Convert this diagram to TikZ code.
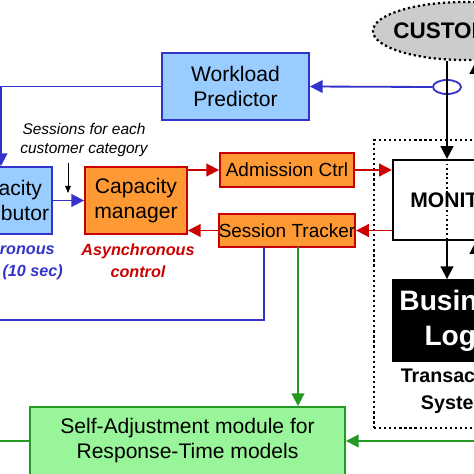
\documentclass[tikz,border=0pt]{standalone}
\usepackage{fontspec}
\setmainfont{Liberation Sans}
\usetikzlibrary{arrows.meta,shapes.geometric}

\definecolor{predfill}{HTML}{99CCFF}
\definecolor{predline}{HTML}{3333CC}
\definecolor{ctrlfill}{HTML}{FF9933}
\definecolor{ctrlline}{HTML}{CC0000}
\definecolor{adjfill}{HTML}{99F599}
\definecolor{adjline}{HTML}{229922}
\definecolor{custfill}{HTML}{CCCCCC}

\begin{document}
\begin{tikzpicture}[x=0.025cm,y=-0.025cm,>={Triangle[length=9pt,width=9pt]},line width=1.3pt,
  box/.style={draw,align=center,inner sep=0pt,font=\fontsize{15}{17.8}\selectfont},
  bluebox/.style={box,draw=predline,fill=predfill},
  orangebox/.style={box,draw=ctrlline,fill=ctrlfill},
  greenbox/.style={box,draw=adjline,fill=adjfill},
  note/.style={align=center,font=\fontsize{11}{14.2}\selectfont\itshape}]
  \useasboundingbox (0,0) rectangle (474,474);
  \clip (0,0) rectangle (474,474);

  % transaction system frame
  \node[draw,dotted,line width=1.6pt,minimum width=4.65cm,minimum height=7.2cm] (tx) at (467,284) {};
  \node[align=center,font=\fontsize{14}{19}\selectfont\bfseries] (txlbl) at (456,391) {Transaction\\System};

  \node[ellipse,draw,dotted,line width=1.6pt,fill=custfill,minimum width=4.6cm,minimum height=1.45cm] (cust) at (465,31) {};
  \node[font=\fontsize{16}{19}\selectfont\bfseries] (custlbl) at (465,31) {CUSTOMERS};
  \node[draw,fill=white,line width=1.6pt,minimum width=3.35cm,minimum height=2cm,
        font=\fontsize{15}{17}\selectfont\bfseries] (mon) at (460,200) {MONITOR};
  \node[draw,fill=black,text=white,align=center,minimum width=3.45cm,minimum height=2.025cm,
        font=\fontsize{20}{25}\selectfont\bfseries] (biz) at (462,320.5) {Business\\Logic};
  \node[ellipse,draw=predline,minimum width=0.7cm,minimum height=0.35cm,inner sep=0pt] (tap) at (447,87) {};
  \coordinate (ret) at (476,0);

  \node[bluebox,minimum width=3.675cm,minimum height=1.675cm] (pred) at (235.5,86.5) {Workload\\Predictor};
  \node[bluebox,minimum width=2.55cm,minimum height=1.675cm] (dist) at (1,200.5) {Capacity\\Distributor};
  \node[orangebox,minimum width=2.55cm,minimum height=1.675cm] (mgr) at (136,200.5) {Capacity\\manager};
  \node[orangebox,minimum width=3.35cm,minimum height=0.85cm,font=\fontsize{13.5}{16}\selectfont] (adm) at (287,170) {Admission Ctrl};
  \node[orangebox,minimum width=3.35cm,minimum height=0.825cm,font=\fontsize{13.5}{16}\selectfont] (trk) at (287,230.5) {Session Tracker};
  \node[greenbox,minimum width=7.875cm,minimum height=1.7cm] (adj) at (187.5,441) {Self-Adjustment module for\\Response-Time models};

  \node[note] (sess) at (84,140) {Sessions for each\\customer category};
  \coordinate (sesstip) at (68,193);
  \node[note,font=\fontsize{11.5}{15.6}\selectfont\bfseries\itshape,text=ctrlline] (async) at (138,261) {Asynchronous\\control};
  \node[note,font=\fontsize{11.5}{15.6}\selectfont\bfseries\itshape,text=predline] (sync) at (3,261) {Synchronous\\control (10 sec)};

  \coordinate (trkb) at (264,247);
  \coordinate (trkg) at (298,247);
  \coordinate (loopl) at (-30,320);
  \coordinate (txr) at (520,441);
  \coordinate (adjl) at (-40,441);

  % customer path
  \draw[->] (tap |- cust.south) -- (tap |- mon.north);
  \draw[dotted] (tap |- mon.north) -- (tap |- mon.south);
  \draw[->] (tap |- mon.south) -- (tap |- biz.north);
  \draw[->] (ret |- mon.north) -- (ret |- cust.south);
  \draw[->] (ret |- biz.north) -- (ret |- mon.south);

  % prediction loop
  \path[->,color=predline]
  (tap.west) edge (pred.east)
  (dist.east) edge (mgr.west);
  \draw[->,draw=predline] (pred.west) -| (dist.north);
  \draw[->,draw=predline] (trkb) |- (loopl) -- (loopl |- dist.south);
  \draw[-{Triangle[length=5pt,width=4pt]},line width=0.6pt] (sess.south -| sesstip) -- (sesstip);

  % admission control
  \path[->,color=ctrlline]
  (mgr.east |- adm.west) edge (adm.west)
  (adm.east) edge (mon.west |- adm.east)
  (mon.west |- trk.east) edge (trk.east)
  (trk.west) edge (mgr.east |- trk.west);

  % response-time models
  \path[->,color=adjline]
  (trkg) edge (adj.north -| trkg)
  (txr) edge (adj.east |- txr)
  (adj.west) edge [-] (adjl);
\end{tikzpicture}
\end{document}
